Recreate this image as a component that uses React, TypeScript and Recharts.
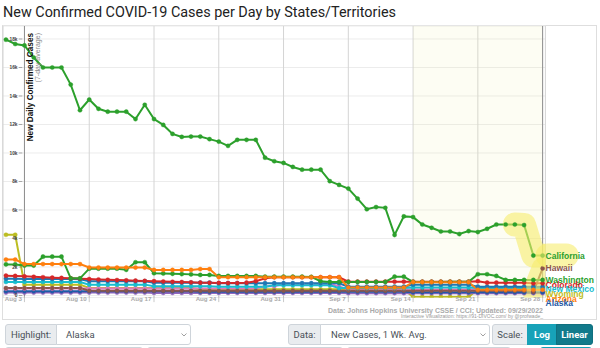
import React from "react";
import { LineChart, Line, XAxis, YAxis, CartesianGrid, ReferenceLine, ReferenceArea, ReferenceDot } from "recharts";

// x = day index, 0 = Aug 1 2022 ... 58 = Sep 28 2022
const tickDays = [2, 9, 16, 23, 30, 37, 44, 51, 58];
const tickLabels = ["Aug 3", "Aug 10", "Aug 17", "Aug 24", "Aug 31", "Sep 7", "Sep 14", "Sep 21", "Sep 28"];
const yTicks = [0, 2000, 4000, 6000, 8000, 10000, 12000, 14000, 16000, 18000];

// 7-day average of new cases
const california = [
  17950, 17650, 17550, 16700, 16000, 16000, 16000, 14800, 13000, 13750,
  13100, 12900, 12900, 12900, 12380, 13380, 12380, 11970, 11340, 11130,
  11150, 11150, 10970, 10800, 10500, 10920, 10920, 10920, 9670, 9420,
  9300, 9020, 8830, 8830, 8830, 8020, 7760, 7500, 6800, 6050,
  6200, 6150, 4250, 5550, 5500, 4980, 4750, 4490, 4490, 4310,
  4520, 4450, 4680, 4980, 4980, 4980, 4940, 2800, 2800,
];
const washington = [
  2180, 2180, 2100, 2100, 2720, 2720, 2720, 1200, 1200, 1880,
  1880, 1880, 1880, 1800, 2330, 2330, 1560, 1540, 1520, 1500,
  1480, 1440, 1440, 1370, 1370, 1370, 1370, 1370, 1320, 1320,
  1320, 1320, 1320, 1300, 1000, 950, 950, 950, 950, 950,
  950, 950, 1320, 1320, 950, 950, 950, 950, 960, 960,
  960, 1490, 1490, 1370, 1090, 1090, 1090, 1090, 1090,
];
const arizona = [
  2520, 2520, 2200, 2200, 2200, 2200, 2200, 2200, 2200, 1960,
  1960, 1960, 1960, 1960, 1960, 1960, 1790, 1790, 1790, 1790,
  1790, 1850, 1850, 1280, 1280, 1280, 1280, 1280, 1280, 1280,
  1280, 1280, 1280, 1280, 1280, 1280, 1280, 560, 560, 560,
  560, 560, 560, 560, 930, 930, 930, 930, 930, 930,
  930, 400, 400, 400, 400, 400, 400, 400, 400,
];
const colorado = [
  1390, 1370, 1340, 1310, 1280, 1250, 1230, 1200, 1180, 1150,
  1120, 1100, 1080, 1060, 1040, 1020, 1000, 980, 960, 940,
  920, 900, 890, 880, 870, 870, 900, 1000, 1200, 1280,
  1280, 1280, 1280, 1280, 1280, 1280, 1280, 970, 970, 970,
  970, 970, 970, 970, 970, 970, 970, 970, 970, 970,
  970, 1000, 900, 900, 900, 900, 900, 850, 850,
];
const newMexico = [
  950, 950, 950, 950, 950, 950, 950, 950, 950, 760,
  760, 760, 760, 760, 760, 760, 640, 640, 640, 640,
  640, 640, 640, 620, 620, 620, 620, 620, 620, 720,
  720, 720, 720, 720, 720, 720, 520, 520, 520, 520,
  520, 520, 520, 520, 560, 560, 560, 560, 560, 560,
  560, 520, 520, 520, 520, 520, 520, 520, 520,
];
const hawaii = [
  520, 520, 520, 520, 520, 520, 520, 520, 520, 330,
  330, 330, 330, 330, 330, 330, 330, 330, 330, 330,
  330, 330, 330, 330, 330, 330, 330, 330, 330, 330,
  330, 330, 330, 330, 330, 330, 330, 330, 330, 330,
  330, 330, 330, 330, 330, 330, 330, 330, 330, 330,
  330, 330, 330, 330, 330, 330, 330, 250, 1900,
];
const wyoming = [
  4260, 4260, 760, 760, 760, 760, 760, 760, 760, 520,
  520, 520, 520, 520, 520, 520, 520, 520, 520, 520,
  520, 430, 430, 430, 430, 430, 430, 430, 430, 430,
  430, 430, 430, 430, 430, 430, 430, 430, 430, 430,
  430, 430, 430, 430, -100, -100, -100, -100, -100, -100,
  -100, 440, 440, 440, 440, 440, 440, 440, 440,
];
const alaska = [
  300, 300, 300, 300, 300, 300, 300, 300, 300, 300,
  300, 300, 300, 300, 300, 300, 300, 300, 300, 300,
  300, 260, 260, 260, 260, 260, 260, 260, 260, 260,
  260, 260, 260, 260, 260, 260, 260, 260, 260, 260,
  260, 260, 260, 260, 230, 230, 230, 230, 230, 230,
  230, 230, 230, 230, 230, 230, 230, 230, 230,
];
const otherBlue = [
  1180, 1170, 1160, 1160, 1160, 1160, 1150, 1150, 1140, 1000,
  1000, 1000, 1000, 1000, 1000, 1000, 900, 900, 900, 900,
  900, 900, 900, 860, 860, 860, 860, 860, 860, 860,
  860, 860, 860, 860, 860, 860, 860, 620, 620, 620,
  620, 620, 620, 620, 760, 760, 760, 760, 760, 760,
  760, 620, 620, 620, 620, 620, 620, 620, 620,
];
const otherPink = [
  480, 480, 480, 480, 480, 480, 480, 480, 480, 480,
  480, 480, 480, 480, 480, 480, 480, 480, 480, 480,
  480, 480, 480, 480, 480, 480, 480, 480, 650, 650,
  820, 820, 820, 820, 820, 820, 640, 420, 420, 420,
  420, 420, 420, 420, 420, 420, 420, 420, 420, 420,
  420, 420, 420, 420, 420, 420, 420, 420, 420,
];
const otherPurple = [
  200, 200, 200, 200, 200, 200, 200, 200, 200, 200,
  200, 200, 200, 200, 200, 200, 180, 180, 180, 180,
  180, 180, 180, 180, 180, 180, 180, 180, 180, 180,
  180, 180, 180, 180, 180, 180, 180, 160, 160, 160,
  160, 160, 160, 160, 160, 160, 160, 160, 160, 160,
  160, 160, 160, 160, 160, 160, 160, 160, 160,
];

// draw order: first is at the bottom
const series = [
  { key: "Wyoming", color: "#bcbd22", values: wyoming, label: true },
  { key: "otherPurple", color: "#9467bd", values: otherPurple, label: false },
  { key: "Alaska", color: "#1f5aa6", values: alaska, label: true },
  { key: "otherPink", color: "#e377c2", values: otherPink, label: false },
  { key: "Hawaii", color: "#8c564b", values: hawaii, label: true },
  { key: "New Mexico", color: "#17becf", values: newMexico, label: true },
  { key: "otherBlue", color: "#1f77b4", values: otherBlue, label: false },
  { key: "Colorado", color: "#d62728", values: colorado, label: true },
  { key: "Washington", color: "#2ca02c", values: washington, label: true },
  { key: "Arizona", color: "#ff7f0e", values: arizona, label: true },
  { key: "California", color: "#2ca02c", values: california, label: true },
];

const CAL_GLOW_FROM = 55;
const HAW_GLOW_FROM = 57;

const rows = california.map((_, d) => {
  const row: any = { d };
  series.forEach((s) => (row[s.key] = s.values[d]));
  row.glowCal = d >= CAL_GLOW_FROM ? california[d] : null;
  row.glowHaw = d >= HAW_GLOW_FROM ? hawaii[d] : null;
  return row;
});

// end labels pushed apart so they do not sit on top of each other
const LABEL_GAP = 330;
let prevLabel = Infinity;
const endLabels = series
  .filter((s) => s.label)
  .map((s) => ({ key: s.key, color: s.color, last: s.values[s.values.length - 1] }))
  .sort((a, b) => b.last - a.last)
  .map((l) => {
    const y = Math.min(l.last, prevLabel - LABEL_GAP);
    prevLabel = y;
    return { ...l, y };
  });

const PLOT_BOTTOM = 297.6;
const FONT = "'Liberation Sans', Arial, sans-serif";

function XTick(props: any) {
  const { x, payload } = props;
  const i = tickDays.indexOf(payload.value);
  return (
    <g>
      <line x1={x} x2={x} y1={PLOT_BOTTOM - 1.5} y2={PLOT_BOTTOM + 4.5} stroke="#bbb" strokeWidth={0.8} />
      <text x={x - 2.5} y={PLOT_BOTTOM + 3.8} textAnchor="end" fontSize={6.2} fontWeight={700} fill="#aaa" fontFamily={FONT}>
        {tickLabels[i]}
      </text>
    </g>
  );
}

function YTick(props: any) {
  const { y, payload } = props;
  const v = payload.value;
  return (
    <g>
      <text x={17.5} y={y} dy="0.35em" textAnchor="end" fontSize={4.8} fontWeight={700} fill="#444" fontFamily={FONT}>
        {v === 0 ? "0" : v / 1000 + "k"}
      </text>
      <line x1={18.8} x2={22.3} y1={y} y2={y} stroke="#777" strokeWidth={0.6} />
    </g>
  );
}

function endLabel(name: string, color: string, glow: boolean) {
  return (props: any) => {
    const vb = props.viewBox || {};
    const x = (vb.x ?? 0) + (vb.width ?? 0) / 2;
    const y = (vb.y ?? 0) + (vb.height ?? 0) / 2;
    return (
      <g>
        {glow && <rect x={x - 7} y={y - 12} width={43} height={24} rx={12} fill="#f7ec6e" fillOpacity={0.6} />}
        <text x={x + 3} y={y} dy="0.35em" fontSize={8.5} fontWeight={700} fill={color} fontFamily={FONT}>
          {name}
        </text>
      </g>
    );
  };
}

const border = "1px solid #ced4da";
const ctrl: React.CSSProperties = {
  position: "absolute",
  top: 324,
  height: 21,
  boxSizing: "border-box",
  border,
  fontSize: 9.5,
  color: "#495057",
  lineHeight: "19px",
  whiteSpace: "nowrap",
};

function Chevron({ left }: { left: number }) {
  return (
    <svg style={{ position: "absolute", left, top: 8 }} width={6} height={4}>
      <path d="M0.5 0.5 L3 3 L5.5 0.5" fill="none" stroke="#888" strokeWidth={0.8} />
    </svg>
  );
}

export default function App() {
  return (
    <div style={{ position: "absolute", left: 0, top: 0, width: 600, height: 348, overflow: "hidden", background: "#fff", fontFamily: "Roboto, sans-serif" }}>
      <div style={{ position: "absolute", left: 2, top: 25, width: 595, height: 295, border: "1px solid #dedede", boxSizing: "border-box" }} />
      <div style={{ position: "absolute", left: 0, top: 0 }}>
        <LineChart width={600} height={320} data={rows} margin={{ top: 26, right: 54.6, bottom: 21.4, left: 2 }}>
          <ReferenceArea x1={44} x2={58} fill="#f2f2a0" fillOpacity={0.13} stroke="none" />
          <CartesianGrid horizontal vertical={false} stroke="#ececec" />
          <CartesianGrid horizontal={false} vertical stroke="#d4d4d4" />
          <XAxis dataKey="d" type="number" domain={[-0.32, 58.3]} ticks={tickDays} interval={0} height={1} axisLine={false} tickLine={false} tick={<XTick />} allowDataOverflow />
          <YAxis type="number" domain={[-150, 18912]} ticks={yTicks} interval={0} width={1} axisLine={false} tickLine={false} tick={<YTick />} allowDataOverflow />
          <ReferenceLine x={2} stroke="#8f8f8f" />
          <ReferenceLine x={58} stroke="#8f8f8f" />
          {series.map((s) => (
            <Line
              key={s.key}
              type="linear"
              dataKey={s.key}
              stroke={s.color}
              strokeWidth={2}
              dot={{ r: 2.1, fill: s.color, stroke: s.color, strokeWidth: 0.4 }}
              activeDot={false}
              isAnimationActive={false}
            />
          ))}
          <Line type="linear" dataKey="glowCal" stroke="#f7ec6e" strokeOpacity={0.6} strokeWidth={24} strokeLinecap="round" strokeLinejoin="round" dot={false} activeDot={false} isAnimationActive={false} />
          <Line type="linear" dataKey="glowHaw" stroke="#f7ec6e" strokeOpacity={0.6} strokeWidth={22} strokeLinecap="round" strokeLinejoin="round" dot={false} activeDot={false} isAnimationActive={false} />
          {endLabels.map((l) => (
            <ReferenceDot key={l.key} x={58} y={l.y} r={0} fill="none" stroke="none" ifOverflow="visible" label={endLabel(l.key, l.color, l.key === "California")} />
          ))}
        </LineChart>
      </div>
      <svg style={{ position: "absolute", left: 0, top: 0, pointerEvents: "none" }} width={600} height={348}>
        <text x={3} y={17} fontFamily="Roboto, sans-serif" fontSize={15.5} fill="#222" textLength={393} lengthAdjust="spacingAndGlyphs">
          New Confirmed COVID-19 Cases per Day by States/Territories
        </text>
        <text transform="rotate(-90)" x={-33} y={33} textAnchor="end" fontSize={8.2} fontWeight={700} fill="#111" fontFamily={FONT}>
          New Daily Confirmed Cases
        </text>
        <text transform="rotate(-90)" x={-33} y={40} textAnchor="end" fontSize={7} fill="#888" fontFamily={FONT}>
          (7-day average)
        </text>
        <text x={543} y={312.5} textAnchor="end" fontSize={7} fontWeight={700} fill="#aaa" fontFamily={FONT} textLength={215} lengthAdjust="spacingAndGlyphs">
          Data: Johns Hopkins University CSSE / CCI; Updated: 09/29/2022
        </text>
        <text x={543} y={317.5} textAnchor="end" fontSize={4.6} fill="#999" fontFamily={FONT} textLength={142} lengthAdjust="spacingAndGlyphs">
          Interactive Visualization: https://91-DIVOC.com/ by @profwade_
        </text>
      </svg>

      <div style={{ ...ctrl, left: 5, width: 52, background: "#e9ecef", borderRadius: "3px 0 0 3px", textAlign: "center" }}>Highlight:</div>
      <div style={{ ...ctrl, left: 56, width: 135, background: "#fff", borderRadius: "0 3px 3px 0", paddingLeft: 9 }}>
        Alaska
        <Chevron left={124} />
      </div>
      <div style={{ ...ctrl, left: 288, width: 33, background: "#e9ecef", borderRadius: "3px 0 0 3px", textAlign: "center" }}>Data:</div>
      <div style={{ ...ctrl, left: 320, width: 170, background: "#fff", borderRadius: "0 3px 3px 0", paddingLeft: 10 }}>
        New Cases, 1 Wk. Avg.
        <Chevron left={159} />
      </div>
      <div style={{ ...ctrl, left: 492, width: 36, background: "#e9ecef", borderRadius: "3px 0 0 3px", textAlign: "center" }}>Scale:</div>
      <div style={{ ...ctrl, left: 527, width: 30, background: "#17a2b8", border: "1px solid #17a2b8", color: "#fff", fontWeight: 700, textAlign: "center" }}>Log</div>
      <div style={{ ...ctrl, left: 556, width: 37, background: "#117a8b", border: "1px solid #10707f", color: "#fff", fontWeight: 700, textAlign: "center", borderRadius: "0 3px 3px 0" }}>Linear</div>

      <div style={{ ...ctrl, top: 347, left: 5, width: 138, background: "#fff", borderRadius: 3 }} />
      <div style={{ ...ctrl, top: 347, left: 147, width: 196, background: "#fff", borderRadius: 3 }} />
      <div style={{ ...ctrl, top: 347, left: 347, width: 164, background: "#fff", borderRadius: 3 }} />
      <div style={{ ...ctrl, top: 347, left: 540, width: 52, background: "#17a2b8", border: "1px solid #17a2b8", borderRadius: 3 }} />
    </div>
  );
}
